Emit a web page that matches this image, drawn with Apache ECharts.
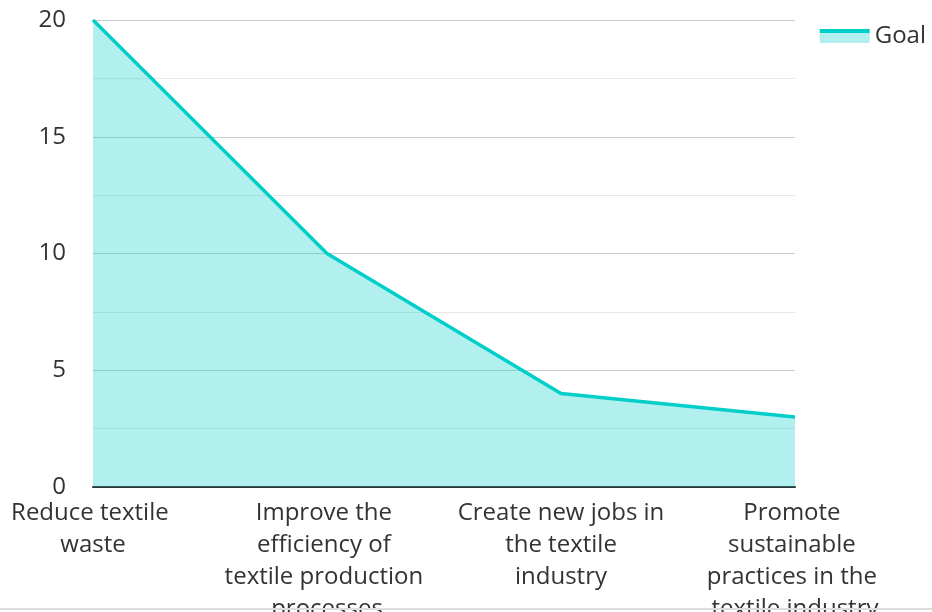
<!DOCTYPE html>
<html>
<head>
<meta charset="utf-8">
<script src="https://cdn.jsdelivr.net/npm/echarts@6/dist/echarts.min.js"></script>
<style>
  html, body { margin: 0; padding: 0; background: #fff; }
  #chart-one { width: 932px; height: 612px; }
</style>
</head>
<body>
<div id="chart-one"></div>
<script>
var categories = [
	'Reduce textile waste',
	'Improve the efficiency of textile production processes',
	'Create new jobs in the textile industry',
	'Promote sustainable practices in the textile industry'
];
var goalValues = [20, 10, 4, 3];
var seriesName = 'Goal';

var mychart = echarts.init(document.getElementById('chart-one'));

var option = {
	textStyle: {
		'fontFamily': 'Open Sans'
	},
	legend: {
		'right': 1,
		'top': 19,
		'itemWidth': 50,
		'itemHeight': 14,
		'itemGap': 10,
		'textStyle': {
			'fontSize': 24,
			'color': '#333',
			'padding': [0, 0, 8, 0]
		},
		'data': [{
			'name': seriesName,
			'icon': 'rect',
			'itemStyle': {
				'color': {
					'type': 'linear', 'x': 0, 'y': 0, 'x2': 0, 'y2': 1,
					'colorStops': [
						{'offset': 0, 'color': '#00cec9'},
						{'offset': 0.25, 'color': '#00cec9'},
						{'offset': 0.25, 'color': '#b2f0ef'},
						{'offset': 1, 'color': '#b2f0ef'}
					]
				}
			}
		}]
	},
	grid: {
		'left': 93,
		'right': 137,
		'top': 20,
		'bottom': 125,
		'outerBoundsMode': 'none'
	},
	xAxis: {
		'type': 'category',
		'boundaryGap': false,
		'data': categories,
		'axisLine': {
			'lineStyle': { 'color': '#333', 'width': 2 }
		},
		'axisTick': { 'show': false },
		'axisLabel': {
			'fontSize': 24,
			'color': '#333',
			'lineHeight': 32,
			'margin': 10,
			'interval': 0,
			'width': 207,
			'overflow': 'break'
		}
	},
	yAxis: {
		'type': 'value',
		'min': 0,
		'max': 20,
		'interval': 5,
		'axisLabel': {
			'fontSize': 24,
			'color': '#333',
			'margin': 27
		},
		'splitLine': {
			'lineStyle': { 'color': '#cccccc', 'width': 1 }
		},
		'minorTick': { 'show': false, 'splitNumber': 2 },
		'minorSplitLine': {
			'show': true,
			'lineStyle': { 'color': '#e8e8e8', 'width': 1 }
		}
	},
	graphic: [{
		'type': 'line',
		'shape': { 'x1': 0, 'y1': 609, 'x2': 932, 'y2': 609 },
		'style': { 'stroke': '#dddddd', 'lineWidth': 2 },
		'z': 100
	}],
	series: [{
		'name': seriesName,
		'type': 'line',
		'data': goalValues,
		'symbol': 'none',
		'lineStyle': {
			'color': '#00cec9',
			'width': 3.5
		},
		'itemStyle': {
			'color': '#00cec9'
		},
		'areaStyle': {
			'color': '#00cec9',
			'opacity': 0.3
		}
	}]
};

mychart.setOption(option);
</script>
</body>
</html>
